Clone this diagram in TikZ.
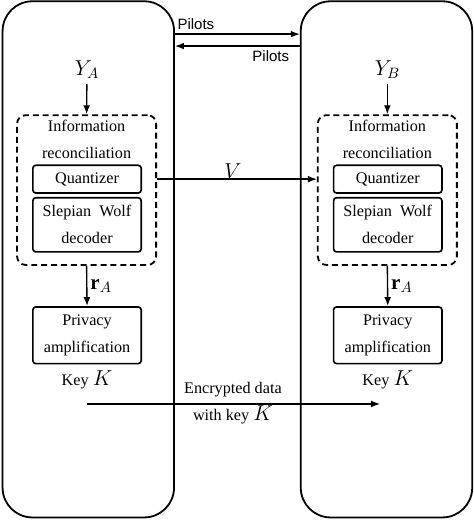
\documentclass[tikz,border=0pt]{standalone}
\usepackage{fontspec}
\setmainfont{Liberation Serif}
\setsansfont{Liberation Sans}
\usetikzlibrary{arrows.meta}
\newcommand{\lblmath}[1]{{\fontsize{14}{16}\selectfont$#1$}}
\tikzset{
  party/.style={draw, line width=1.2pt, rounded corners=0.7cm, minimum width=4.02cm, minimum height=12.1cm},
  irbox/.style={draw, line width=1.2pt, dash pattern=on 4pt off 2.6pt, rounded corners=0.2cm, minimum width=3.26cm, minimum height=3.51cm},
  unit/.style={draw, line width=1.1pt, rounded corners=2pt, minimum width=2.54cm, align=center},
  flow/.style={-{Latex[length=6pt,width=4.5pt]}, line width=0.9pt}
}
\begin{document}
\begin{tikzpicture}[font=\fontsize{10.8}{18}\selectfont]
\useasboundingbox (0,0) rectangle (11.11,-12.19);
\node[party] (alice) at (2.07,-6.08) {};
\node[party] (bob) at (9.06,-6.08) {};
\coordinate (pil1) at (0,-0.80);
\coordinate (pil2) at (0,-1.08);
\draw[flow] (alice.east |- pil1) -- (bob.west |- pil1);
\draw[flow] (bob.west |- pil2) -- (alice.east |- pil2);
\node[font=\sffamily, anchor=south west, inner sep=1pt] (lblpil1) at (4.12,-0.74) {Pilots};
\node[font=\sffamily, anchor=north east, inner sep=1pt] (lblpil2) at (6.82,-1.15) {Pilots};
% Alice side
\node (ya) at (2.04,-1.64) {\lblmath{Y_A}};
\node[irbox] (irA) at (2.03,-4.455) {};
\node[align=center] (irtA) at (2.03,-3.27) {Information\\reconciliation};
\node[unit, minimum height=0.65cm] (qA) at (2.04,-4.20) {Quantizer};
\node[unit, minimum height=1.27cm] (swA) at (2.04,-5.27) {Slepian~~Wolf\\decoder};
\node[unit, minimum height=1.33cm] (paA) at (2.04,-7.86) {Privacy\\amplification};
\node (keyA) at (2.04,-8.91) {Key \lblmath{K}};
\draw[flow] (ya) -- (irA.north);
\draw[flow] (irA.south) -- node[right, inner sep=2pt] {\lblmath{\mathbf{r}_A}} (paA.north);
% Bob side
\node (yb) at (9.08,-1.64) {\lblmath{Y_B}};
\node[irbox] (irB) at (9.08,-4.455) {};
\node[align=center] (irtB) at (9.08,-3.27) {Information\\reconciliation};
\node[unit, minimum height=0.65cm] (qB) at (9.09,-4.20) {Quantizer};
\node[unit, minimum height=1.27cm] (swB) at (9.09,-5.27) {Slepian~~Wolf\\decoder};
\node[unit, minimum height=1.33cm] (paB) at (9.09,-7.86) {Privacy\\amplification};
\node (keyB) at (9.09,-8.91) {Key \lblmath{K}};
\draw[flow] (yb) -- (irB.north);
\draw[flow] (irB.south) -- node[right, inner sep=2pt] {\lblmath{\mathbf{r}_A}} (paB.north);
% public channel
\draw[flow] (irA.east |- qA) -- (irB.west |- qA);
\node (lblv) at (5.46,-4.00) {\lblmath{V}};
\coordinate (encA) at (2.04,-9.47);
\coordinate (encB) at (8.91,-9.47);
\draw[flow] (encA) -- (encB);
\node[align=center] (lblenc) at (5.46,-9.45) {Encrypted data\\with key \lblmath{K}};
\end{tikzpicture}
\end{document}
